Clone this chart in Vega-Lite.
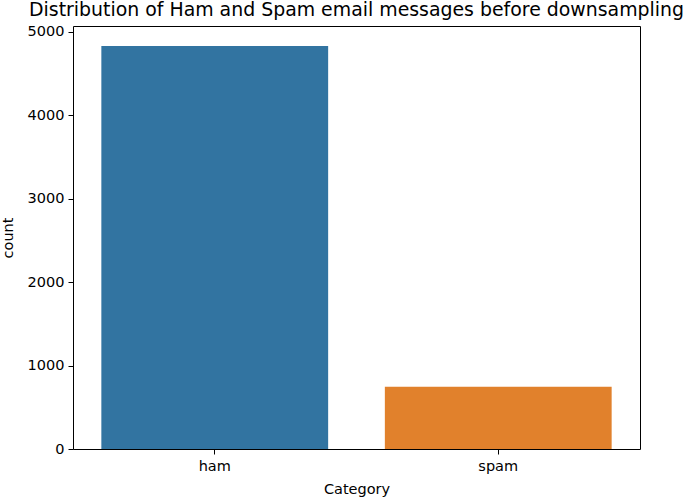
{
  "$schema": "https://vega.github.io/schema/vega-lite/v6.json",
  "autosize": {"type": "none"},
  "padding": {"left": 73, "top": 26, "right": 45, "bottom": 50},
  "width": 567,
  "height": 423,
  "title": {
    "text": "Distribution of Ham and Spam email messages before downsampling",
    "font": "DejaVu Sans",
    "fontSize": 18.9,
    "fontWeight": "normal",
    "color": "black",
    "anchor": "middle",
    "offset": 4
  },
  "data": {
    "values": [
      {"Category": "ham", "count": 4825},
      {"Category": "spam", "count": 747}
    ]
  },
  "config": {
    "view": {"stroke": "black", "strokeWidth": 1},
    "axis": {
      "labelFont": "DejaVu Sans",
      "titleFont": "DejaVu Sans",
      "labelFontSize": 14.5,
      "titleFontSize": 14.5,
      "titleFontWeight": "normal",
      "labelColor": "black",
      "titleColor": "black",
      "domainColor": "black",
      "tickColor": "black",
      "tickSize": 5,
      "grid": false
    }
  },
  "mark": {"type": "bar"},
  "encoding": {
    "x": {
      "field": "Category",
      "type": "nominal",
      "scale": {"paddingInner": 0.2, "paddingOuter": 0.1},
      "axis": {"labelAngle": 0, "labelPadding": 5, "titlePadding": 10, "domain": false}
    },
    "y": {
      "field": "count",
      "type": "quantitative",
      "scale": {"domain": [0, 5066], "nice": false},
      "axis": {"values": [0, 1000, 2000, 3000, 4000, 5000], "format": "d", "labelPadding": 4, "titlePadding": 12, "domain": false}
    },
    "color": {
      "field": "Category",
      "type": "nominal",
      "scale": {"range": ["#3274a1", "#e1812c"]},
      "legend": null
    }
  }
}
